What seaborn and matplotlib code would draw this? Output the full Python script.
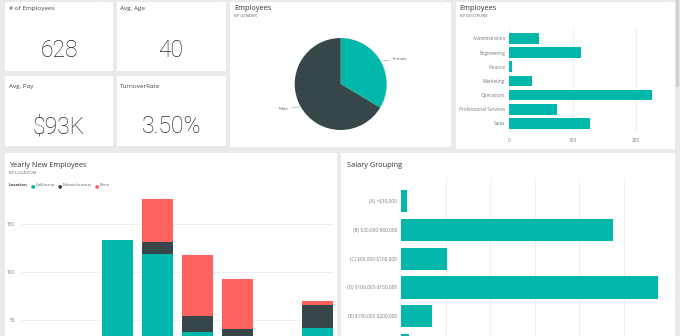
import matplotlib
matplotlib.use("Agg")
import matplotlib.pyplot as plt
import seaborn as sns
import numpy as np
from matplotlib.patches import Rectangle

# ---------------- data ----------------
kpi_titles = ["# of Employees", "Avg. Age", "Avg. Pay", "TurnoverRate"]
kpi_values = ["628", "40", "$93K", "3.50%"]

genders = ["Female", "Male"]
gender_counts = [211, 417]

disciplines = ["Administration", "Engineering", "Finance", "Marketing",
               "Operations", "Professional Services", "Sales"]
discipline_counts = [47, 113, 5, 36, 225, 75, 127]

years = ["2010", "2011", "2012", "2013", "2014", "2015", "2016", "2017"]
california = [12, 20, 134, 119, 38, 10, 15, 42]
massachusetts = [0, 0, 0, 13, 16, 31, 5, 24]
paris = [0, 0, 0, 44, 64, 52, 6, 4]
locations = ["California", "Massachusetts", "Paris"]

salary_groups = ["(A) <$30,000", "(B) $30,000-$60,000", "(C) $60,000-$100,000",
                 "(D) $100,000-$150,000", "(E) $150,000-$200,000", "(F) >$200,000"]
salary_counts = [6, 238, 51, 289, 35, 9]

# ---------------- style ----------------
TEAL, DARK, RED = "#01B8AA", "#374649", "#FD625E"
BG = "#eaeaea"
GRID = "#ececec"
TICK = "#7a7a7a"
TITLE = "#333333"

sns.set_style("white")
plt.rcParams["font.family"] = ["Open Sans", "DejaVu Sans"]

W, H = 680, 336
fig = plt.figure(figsize=(6.8, 3.36), dpi=100)
fig.patch.set_facecolor(BG)


def fx(x):
    return x / W


def fy(y):
    return 1 - y / H


def ax_box(x0, y0, x1, y1):
    return [x0 / W, 1 - y1 / H, (x1 - x0) / W, (y1 - y0) / H]


def panel(x0, y0, x1, y1, color="white"):
    fig.add_artist(Rectangle((fx(x0), fy(y1)), (x1 - x0) / W, (y1 - y0) / H,
                             transform=fig.transFigure, facecolor=color,
                             edgecolor="none", zorder=0))


def txt(x, y, s, size, color=TITLE, ha="left", va="baseline", **kw):
    fig.text(fx(x), fy(y), s, fontsize=size, color=color, ha=ha, va=va,
             parse_math=False, **kw)


def dots(x, y):
    txt(x, y, "···", 3.2, color="#a0a0a0", ha="center", va="center")


# panels
panel(5, 2, 113, 71)
panel(117, 2, 226, 71)
panel(5, 76, 113, 146)
panel(117, 76, 226, 146)
panel(230, 2, 451, 147)
panel(456, 2, 675, 149)
panel(676, 0, 679, 87, color="#cfcfcf")
panel(5, 153, 337, 340)
panel(341, 153, 675, 340)

# ---------------- KPI cards ----------------
card_pos = [(9, 10.3, 59, 56.7), (120, 10.3, 171, 56.7),
            (9, 88.3, 59, 133.3), (120, 88.3, 172, 133.3)]
dot_pos = [(103.5, 5), (218, 5), (103.5, 84), (218, 84)]
for (tx, ty, vx, vy), t, v, (dx, dy) in zip(card_pos, kpi_titles, kpi_values, dot_pos):
    txt(tx, ty, t, 4.6, color="#444444")
    txt(vx, vy, v, 16.5, color="#262626", ha="center",
        family=["Roboto", "DejaVu Sans"], fontweight="light")
    dots(dx, dy)

# ---------------- Pie: employees by gender ----------------
txt(234.5, 10.5, "Employees", 5.3)
txt(234.5, 17.3, "BY GENDER", 3.1, color="#666666")
dots(441, 5)
axp = fig.add_axes(ax_box(294.7, 38, 386.7, 130))
axp.set_facecolor("none")
wedges, _ = axp.pie(gender_counts, colors=[TEAL, DARK], startangle=90,
                    counterclock=False, radius=1,
                    wedgeprops=dict(linewidth=0))
axp.set_xlim(-1, 1)
axp.set_ylim(-1, 1)
for w, lab in zip(wedges, genders):
    ang = np.deg2rad((w.theta1 + w.theta2) / 2)
    px, py = np.cos(ang), np.sin(ang)
    side = 1 if px > 0 else -1
    axp.annotate(lab, xy=(px * 1.0, py * 1.0),
                 xytext=(side * 1.13, py * 1.12),
                 ha="left" if side > 0 else "right", va="center",
                 fontsize=3.2, color="#666666", annotation_clip=False,
                 arrowprops=dict(arrowstyle="-", color="#9a9a9a", lw=0.4,
                                 shrinkA=0, shrinkB=0))


def clean(ax):
    ax.set_xlabel("")
    ax.set_ylabel("")
    for s in ax.spines.values():
        s.set_visible(False)
    ax.set_axisbelow(True)
    ax.tick_params(axis="both", length=0, labelsize=3.4, labelcolor=TICK)


# ---------------- Bar: employees by discipline ----------------
txt(459.7, 10.5, "Employees", 5.3)
txt(459.7, 17.3, "BY DISCIPLINE", 3.1, color="#666666")
dots(667.5, 5.5)
axd = fig.add_axes(ax_box(509.3, 27, 661.3, 133))
axd.set_facecolor("none")
sns.barplot(x=discipline_counts, y=disciplines, orient="h", color=TEAL,
            saturation=1, width=0.75, ax=axd, linewidth=0)
axd.set_xlim(0, 240)
axd.set_ylim(6.68, -0.8)
axd.set_xticks([0, 100, 200])
axd.grid(axis="x", color=GRID, lw=0.6)
clean(axd)
axd.tick_params(axis="y", pad=3)
axd.tick_params(axis="x", pad=3.5)

# ---------------- Stacked columns: yearly new employees ----------------
txt(9, 166.7, "Yearly New Employees", 5.3)
txt(9, 173.7, "BY LOCATION", 3.1, color="#666666")
dots(329, 162)
txt(9, 185.3, "Location", 3.1, color="#444444", va="center", fontweight="bold")
leg_x = [(33, 36), (59.5, 62.5), (96.5, 99.5)]
for (cx, tx_), lab, col in zip(leg_x, locations, [TEAL, DARK, RED]):
    txt(cx, 185.5, "●", 3.6, color=col, ha="center", va="center",
        family=["DejaVu Sans"])
    txt(tx_, 185.3, lab, 3.1, color="#666666", va="center")

cal = np.array(california)
mas = np.array(massachusetts)
par = np.array(paris)
axy = fig.add_axes(ax_box(21, 190.7, 333, 368.3))
axy.set_facecolor("none")
sns.barplot(x=years, y=cal + mas + par, color=RED, saturation=1, width=0.79,
            ax=axy, linewidth=0)
sns.barplot(x=years, y=cal + mas, color=DARK, saturation=1, width=0.79,
            ax=axy, linewidth=0)
sns.barplot(x=years, y=cal, color=TEAL, saturation=1, width=0.79,
            ax=axy, linewidth=0)
axy.set_xlim(-0.4125, 7.3875)
axy.set_ylim(0, 185)
axy.set_yticks([50, 100, 150])
axy.grid(axis="y", color=GRID, lw=0.6)
clean(axy)
axy.tick_params(axis="y", pad=4.3)
# the year labels lie below the visible (cropped) area of the dashboard
axy.tick_params(axis="x", labelbottom=False)

# ---------------- Horizontal bars: salary grouping ----------------
txt(347, 166.7, "Salary Grouping", 5.3)
dots(667.5, 161.7)
axs = fig.add_axes(ax_box(401.3, 178.3, 668, 359.5))
axs.set_facecolor("none")
sns.barplot(x=salary_counts, y=salary_groups, orient="h", color=TEAL,
            saturation=1, width=0.775, ax=axs, linewidth=0)
axs.set_xlim(0, 300)
axs.set_ylim(5.5, -0.79)
axs.set_xticks([50, 100, 150, 200, 250, 300])
axs.grid(axis="x", color=GRID, lw=0.6)
axs.set_yticks(range(len(salary_groups)),
               labels=[g.replace("$", r"\$") for g in salary_groups])
clean(axs)
axs.tick_params(axis="y", pad=3)
axs.tick_params(axis="x", labelbottom=False)
# the last group's label falls below the cropped dashboard edge
axs.get_yticklabels()[-1].set_visible(False)

fig.savefig("out.png", dpi=100, facecolor=BG)
